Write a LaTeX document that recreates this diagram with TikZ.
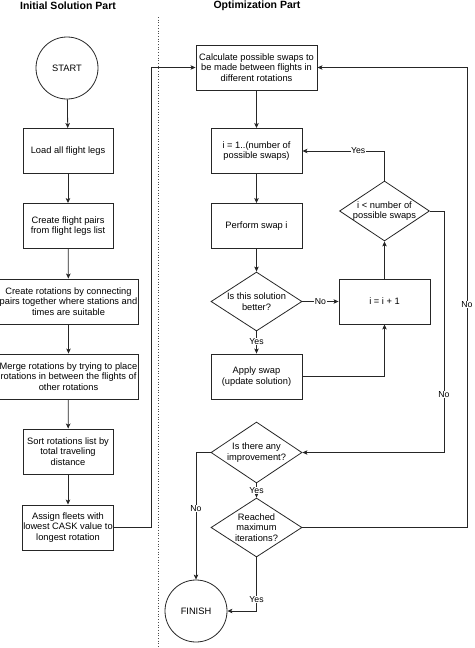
\documentclass[tikz,border=0pt]{standalone}
\usepackage{fontspec}
\setmainfont{Liberation Sans}
\usetikzlibrary{shapes.geometric,arrows.meta}
\begin{document}
\begin{tikzpicture}[x=1pt,y=-1pt,
  every node/.style={font=\fontsize{9.3}{10.8}\selectfont},
  box/.style={draw=black!85,line width=0.9pt,rectangle,align=center,inner sep=1pt,minimum width=#1,minimum height=45},
  box/.default=91,
  term/.style={draw=black!85,line width=0.8pt,circle,minimum size=62,inner sep=0},
  dia/.style={draw=black!85,line width=0.8pt,diamond,minimum width=91,minimum height=60,inner sep=0},
  arr/.style={draw=black!85,line width=0.8pt,-{Stealth[length=5pt,width=4.5pt,inset=1.2pt]}},
  lbl/.style={fill=white,inner sep=0.5pt,font=\fontsize{8.7}{10}\selectfont},
  title/.style={font=\fontsize{10.5}{12}\selectfont\bfseries}
]
\useasboundingbox (0,0) rectangle (474,648);
\node[title] (t1) at (68,6) {Initial Solution Part};
\node[title] (t2) at (257,6) {Optimization Part};
\draw[black!70,line width=0.7pt,dotted] (158,17) coordinate (sepa) -- (158,648) coordinate (sepb);

% left column
\node[term] (start) at (67,68) {START};
\node[box=90] (load) at (68,151) {Load all flight legs};
\node[box=90] (pairs) at (68,226) {Create flight pairs\\from flight legs list};
\node[box=135] (rot) at (68.5,301.5) {Create rotations by connecting\\pairs together where stations and\\times are suitable};
\node[box=135] (merge) at (68.5,376.5) {Merge rotations by trying to place\\rotations in between the flights of\\other rotations};
\node[box=90] (sort) at (68,451.5) {Sort rotations list by\\total traveling\\distance};
\node[box=90] (assign) at (68,527.5) {Assign fleets with\\lowest CASK value to\\longest rotation};

% right column
\node[box=121] (calc) at (256.5,67.5) {Calculate possible swaps to\\be made between flights in\\different rotations};
\node[box=91] (i1) at (256.5,151) {i = 1..(number of\\possible swaps)};
\node[box=91] (perf) at (256.5,226) {Perform swap i};
\node[dia,minimum height=59,label={[align=center]center:Is this solution\\better?}] (better) at (256.5,301.5) {};
\node[box=91] (apply) at (256.5,376.5) {Apply swap\\(update solution)};
\node[box=91] (inc) at (384.5,301.5) {i = i + 1};
\node[dia,minimum width=90,label={[align=center]center:i {<} number of\\possible swaps}] (ilt) at (384.5,211) {};
\node[dia,minimum height=61,label={[align=center]center:Is there any\\improvement?}] (impr) at (256.5,452.5) {};
\node[dia,minimum height=59,label={[align=center]center:Reached\\maximum\\iterations?}] (reach) at (256.5,527.5) {};
\node[term] (finish) at (196,611) {FINISH};

% connectors
\draw[arr] (start) -- (load);
\draw[arr] (load) -- (pairs);
\draw[arr] (pairs) -- (rot);
\draw[arr] (rot) -- (merge);
\draw[arr] (merge) -- (sort);
\draw[arr] (sort) -- (assign);
\draw[arr] (assign.east) -- (151,527.5) |- (calc.west);
\draw[arr] (calc) -- (i1);
\draw[arr] (i1) -- (perf);
\draw[arr] (perf) -- (better);
\draw[arr] (better.south) -- node[lbl,pos=0.45]{Yes} (apply.north);
\draw[arr] (better.east) -- node[lbl]{No} (inc.west);
\draw[arr] (apply.east) -| (inc.south);
\draw[arr] (inc) -- (ilt);
\draw[arr] (ilt.north) |- node[lbl,pos=0.66]{Yes} (i1.east);
\draw[arr] (ilt.east) -- (444,211) -- node[lbl,pos=0.76]{No} (444,452.5) -- (impr.east);
\draw[arr] (impr.south) -- node[lbl]{Yes} (reach.north);
\draw[arr] (impr.west) -| node[lbl,pos=0.72]{No} (finish.north);
\draw[arr] (reach.east) -- (467,527.5) -- node[lbl,pos=0.484]{No} (467,67.5) -- (calc.east);
\draw[arr] (reach.south) |- node[lbl,pos=0.39]{Yes} (finish.east);
\end{tikzpicture}
\end{document}
